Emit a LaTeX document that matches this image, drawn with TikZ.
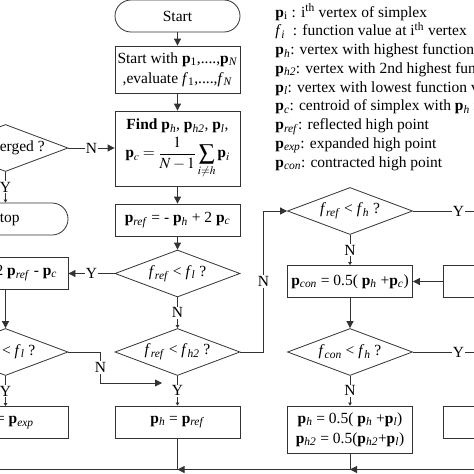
\documentclass[tikz,border=0pt]{standalone}
\usepackage{amsmath}
\usepackage{mathptmx}
\usepackage{fontspec}
\setmainfont{Liberation Serif}
\usetikzlibrary{arrows.meta}
\usetikzlibrary{shapes.geometric}
\usetikzlibrary{positioning}

\newcommand{\pv}[1]{\textbf{p}\textsubscript{\textit{#1}}}
\newcommand{\fv}[1]{\textit{f}\textsubscript{\textit{#1}}}

\tikzset{
  procbox/.style={draw, rectangle, minimum width=125pt, minimum height=32pt, inner sep=2pt, align=center},
  termbox/.style={draw, rectangle, rounded corners=16pt, minimum width=125pt, minimum height=32pt},
  testbox/.style={draw, diamond, aspect=2.66, minimum width=125pt, minimum height=47pt, inner sep=0pt},
  flow/.style={-{Triangle[length=7pt,width=7pt]}},
  tick/.style={-{Triangle[length=3pt,width=3.5pt]}},
  yn/.style={fill=white, inner sep=1pt},
}

\begin{document}
\begin{tikzpicture}[x=1pt, y=-1pt, line width=0.8pt, draw=black!80,
    font=\fontsize{15.5}{20}\selectfont]
  \path[fill=white] (0,0) rectangle (474,474);
  \useasboundingbox (0,0) rectangle (474,474);

  % Main column
  \node[termbox] (start) at (177.5,16)    {Start};
  \node[procbox, minimum height=47pt] (init) at (177.5,69.5)
       {Start with \pv{\textup{1}},....,\pv{N}\\,evaluate \fv{\textup{1}},....,\fv{N}};
  \node[procbox, minimum height=75pt] (find) at (177.5,148.5)
       {\textbf{Find} \pv{h}, \pv{h2}, \pv{l},\\[3pt]
        $\displaystyle\mathbf{p}_c=\frac{1}{N-1}\sum_{i\neq h}\mathbf{p}_i$};
  \node[procbox] (refl)  at (177.5,220)   {\pv{ref} = - \pv{h} + 2 \pv{c}};
  \node[testbox] (tlow)  at (177.5,273.5) {\fv{ref} < \fv{l} ?};
  \node[testbox] (th2)   at (177.5,352)   {\fv{ref} < \fv{h2} ?};
  \node[procbox] (acc)   at (177.5,422)   {\pv{h} = \pv{ref}};

  % Left column
  \node[testbox] (conv)  at (5.5,148)     {Converged ?};
  \node[termbox] (stop)  at (5.5,219)     {Stop};
  \node[procbox] (expd)  at (5.5,273)     {\pv{exp} = 2 \pv{ref} - \pv{c}};
  \node[testbox] (texp)  at (5.5,352)     {\fv{exp} < \fv{l} ?};
  \node[procbox] (acce)  at (5.5,422.5)   {\pv{h} = \pv{exp}};

  % Right column
  \node[testbox] (thigh) at (350,211)     {\fv{ref} < \fv{h} ?};
  \node[procbox] (cont)  at (350,281.5)   {\pv{con} = 0.5( \pv{h} +\pv{c})};
  \node[testbox] (tcon)  at (350,352)     {\fv{con} < \fv{h} ?};
  \node[procbox, minimum height=47pt] (shrk) at (350,429.5)
       {\pv{h} = 0.5( \pv{h} +\pv{l})\\\pv{h2} = 0.5(\pv{h2}+\pv{l})};
  \node[procbox] (rbox1) at (505.5,281.5) {};
  \node[procbox] (rbox2) at (505.5,422.5) {};

  % Free ends
  \coordinate (nend)  at (162,383);
  \coordinate (yout1) at (504,211);
  \coordinate (yout2) at (504,352);
  \coordinate (rin)   at (480,469.5);
  \coordinate (rout)  at (-10,469.5);

  % Connectors
  \draw[flow] (start) -- (init);
  \draw[flow] (init) -- (find);
  \draw[flow] (find) -- (refl);
  \draw[flow] (refl) -- (tlow);
  \draw[tick] (tlow) -- node[yn] {N} (th2);
  \draw[tick] (th2) -- node[yn] {Y} (acc);
  \draw[flow] (conv.east) -- node[yn] {N} (conv.east -| find.west);
  \draw[tick] (conv) -- node[yn] {Y} (stop);
  \draw[flow] (tlow.west) -- node[yn] {Y} (tlow.west -| expd.east);
  \draw[flow] (expd) -- (texp);
  \draw[tick] (texp) -- node[yn] {Y} (acce);
  \draw[flow] (texp.east) -- ++(32,0) -- node[yn] {N} ++(0,31) -- (nend);
  \draw[flow] (th2.east) -- ++(23,0) |- node[yn, pos=0.25] {N} (thigh.west);
  \draw       (thigh.east) -- node[yn] {Y} (yout1);
  \draw[tick] (thigh) -- node[yn] {N} (cont);
  \draw[flow] (rbox1) -- (cont);
  \draw[flow] (cont) -- (tcon);
  \draw       (tcon.east) -- node[yn] {Y} (yout2);
  \draw[tick] (tcon) -- node[yn] {N} (shrk);

  % Return line
  \draw       (acc) -- (acc |- rin);
  \draw       (shrk) -- (shrk |- rin);
  \draw[flow] (rin) -- (shrk |- rin);
  \draw[flow] (shrk |- rin) -- (acc |- rin);
  \draw       (acc |- rin) -- (rout);

  % Legend
  \foreach \txt [count=\k] in {
      {\pv{\textup{i}} : i\textsuperscript{th} vertex of simplex},
      {\fv{i}\ \ : function value at i\textsuperscript{th} vertex},
      {\pv{h}: vertex with highest function value},
      {\pv{h2}: vertex with 2nd highest function value},
      {\pv{l}: vertex with lowest function value},
      {\pv{c}: centroid of simplex with \pv{h} removed},
      {\pv{ref}: reflected high point},
      {\pv{exp}: expanded high point},
      {\pv{con}: contracted high point}}
    \node[anchor=base west, inner sep=0pt] (note\k) at (275,{17+18.75*(\k-1)}) {\txt};
\end{tikzpicture}
\end{document}
